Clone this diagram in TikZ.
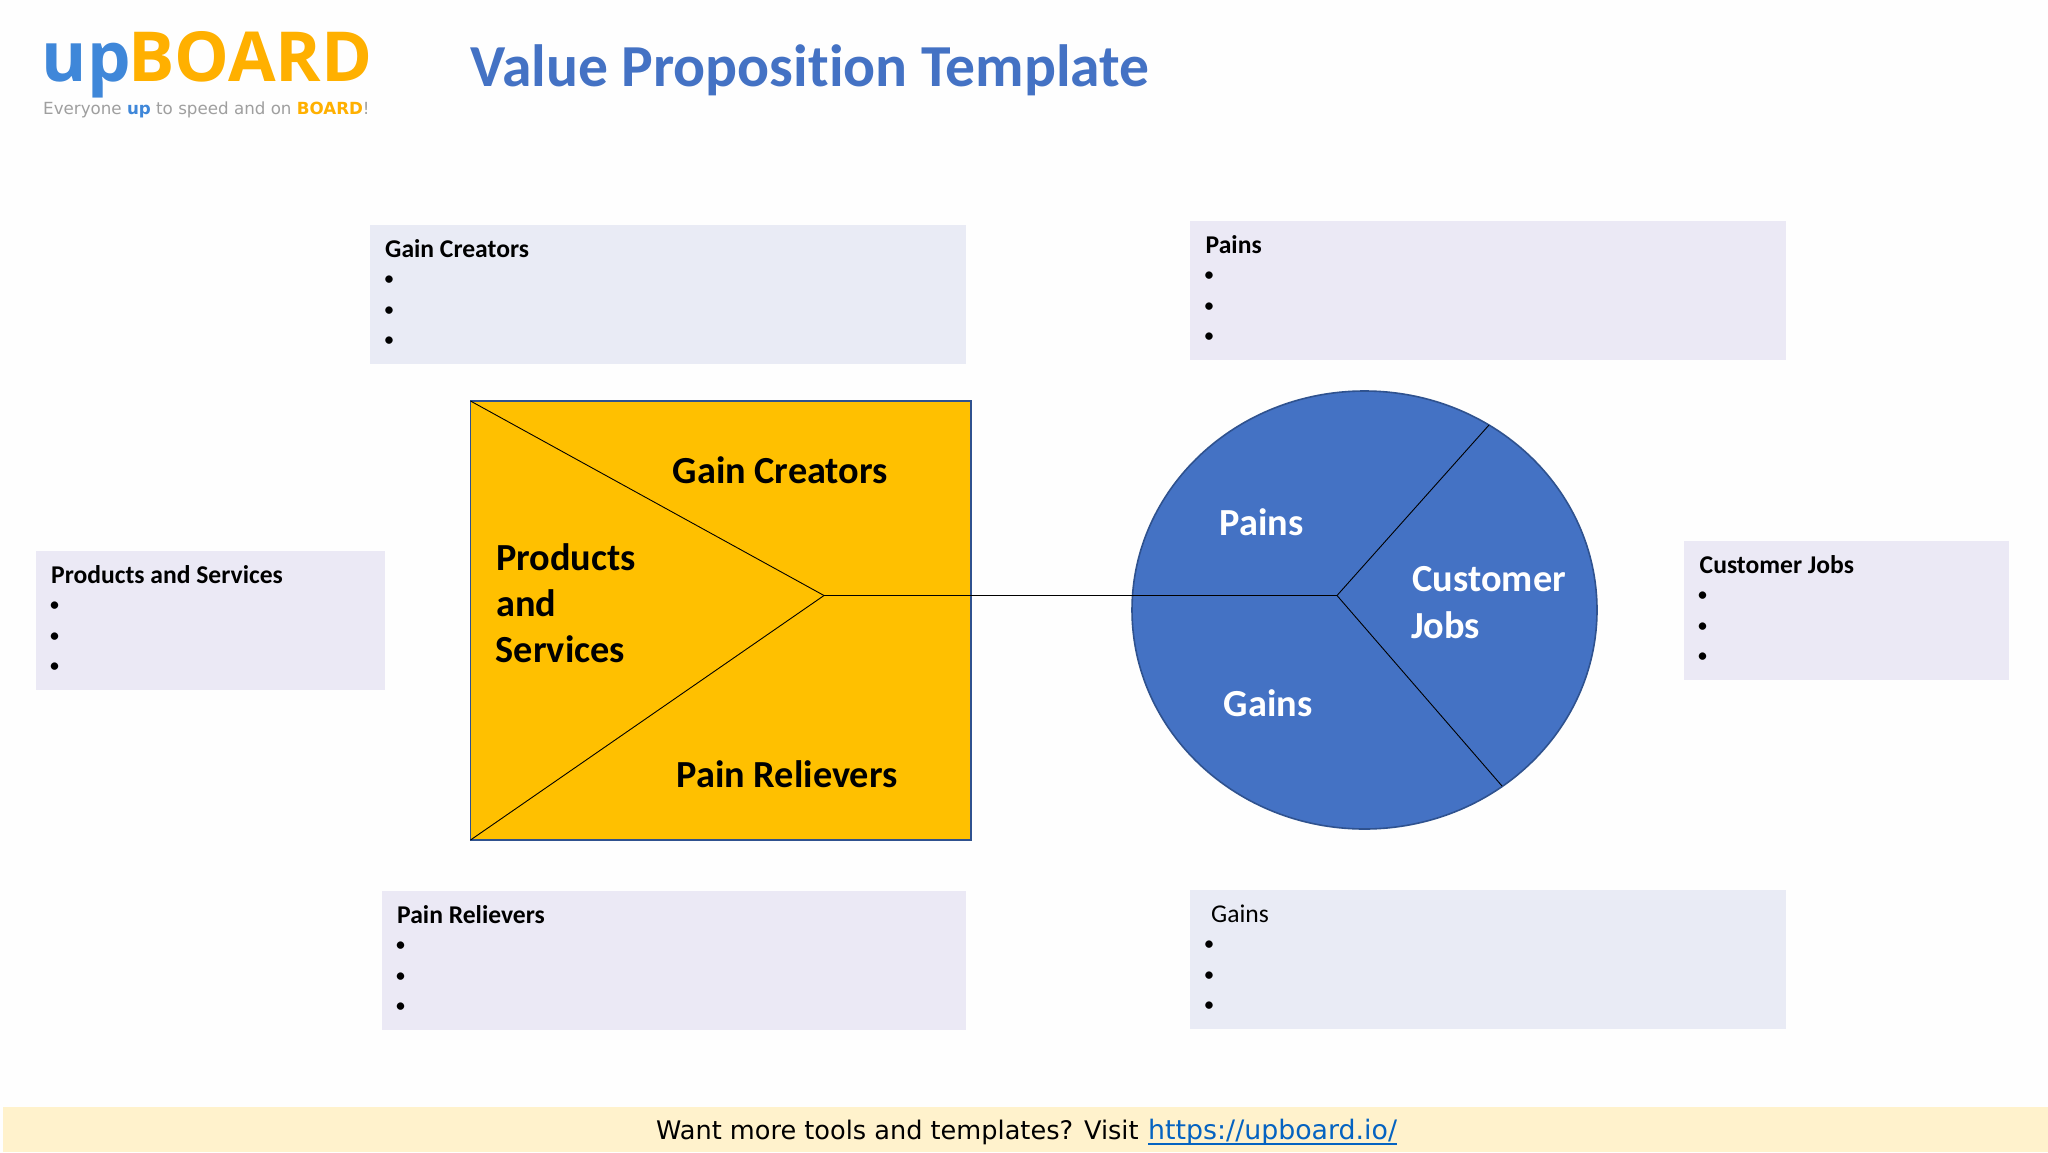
\documentclass[tikz,border=0pt]{standalone}
\usepackage{fontspec}
\usetikzlibrary{shapes.geometric}
\setmainfont{Carlito}[Ligatures=NoCommon]
\newfontfamily\logofont{Open Sans}
\newfontfamily\vfont{DejaVu Sans}
\definecolor{boxa}{HTML}{E9EBF5}
\definecolor{boxb}{HTML}{EBE9F5}
\definecolor{gold}{HTML}{FFC000}
\definecolor{edgeb}{HTML}{2F528F}
\definecolor{blue1}{HTML}{4472C4}
\definecolor{titleb}{HTML}{4472C4}
\definecolor{logob}{HTML}{3F87D9}
\definecolor{logoy}{HTML}{FFB000}
\definecolor{band}{HTML}{FFF2CC}
\definecolor{linkb}{HTML}{0563C1}
\tikzset{x=1pt,y=-1pt,
  listbox/.style={inner sep=0pt,outer sep=0pt,anchor=north west},
  boxtitle/.style={anchor=base west,inner sep=0pt,font=\fontsize{25.6}{26}\selectfont\bfseries,text=black},
  bulletmark/.style={anchor=center,inner sep=0pt,font=\fontsize{21}{21}\selectfont,text=black},
  biglabel/.style={anchor=base west,inner sep=0pt,font=\fontsize{38.3}{38}\selectfont\bfseries,text=black},
  pielabel/.style={anchor=base west,inner sep=0pt,font=\fontsize{38.3}{38}\selectfont\bfseries,text=white},
  thinline/.style={draw=black,line width=0.9pt},
}
% name, x1, y1, width, height, colour
\newcommand{\lbox}[6]{%
  \node[listbox,fill=#6,minimum width=#4pt,minimum height=#5pt] (#1) at (#2,#3) {};
  \node[bulletmark] (#1b1) at ([xshift=19pt,yshift=-56pt]#1.north west) {•};
  \node[bulletmark] (#1b2) at ([xshift=19pt,yshift=-86.5pt]#1.north west) {•};
  \node[bulletmark] (#1b3) at ([xshift=19pt,yshift=-117pt]#1.north west) {•};
}
\begin{document}
\begin{tikzpicture}
\useasboundingbox (0,0) rectangle (2048,1152);
\fill[white!99.5!black] (0,0) rectangle (2048,1152);
% logo
\node[anchor=base west,inner sep=0pt,font=\logofont\fontsize{69}{69}\selectfont\bfseries,text=logob] (logoup) at (41.5,81) {up};
\node[anchor=base west,inner sep=0pt,font=\logofont\fontsize{69}{69}\selectfont\bfseries,text=logoy] (logoboard) at (128,81) {BOARD};
\node[anchor=base west,inner sep=0pt,font=\vfont\fontsize{16.7}{17}\selectfont,text=gray!75] (logotag) at (43,114) {Everyone \textcolor{logob}{\textbf{up}} to speed and on \textcolor{logoy}{\textbf{BOARD}}!};
% title
\node[anchor=base west,inner sep=0pt,font=\fontsize{59.6}{60}\selectfont\bfseries,text=titleb] (title) at (470,86) {Value Proposition Template};
% list boxes
\lbox{gc}{370}{225}{595.5}{139}{boxa}
\node[boxtitle] (gct) at (385,257) {Gain Creators};
\lbox{pa}{1190}{221}{596}{138.5}{boxb}
\node[boxtitle] (pat) at (1205.5,253.5) {Pains};
\lbox{ps}{35.5}{551}{349}{139}{boxb}
\node[boxtitle] (pst) at (51,583) {Products and Services};
\lbox{cj}{1683.5}{541}{325}{138.5}{boxb}
\node[boxtitle] (cjt) at (1699.5,573) {Customer Jobs};
\lbox{pr}{381.5}{891}{584}{139}{boxb}
\node[boxtitle] (prt) at (397,923) {Pain Relievers};
\lbox{ga}{1190}{890}{596}{139}{boxa}
\node[anchor=base west,inner sep=0pt,font=\fontsize{25.6}{26}\selectfont,text=black] (gat) at (1211,922) {Gains};
% value map
\node[listbox,fill=gold,draw=edgeb,line width=1.8pt,minimum width=500.5pt,minimum height=439pt] (map) at (470.5,401) {};
\coordinate (apex) at (824,595.5);
\draw[thinline] (map.north west) -- (apex);
\draw[thinline] (map.south west) -- (apex);
% customer profile
\node[ellipse,fill=blue1,draw=edgeb,line width=1.6pt,minimum width=465pt,minimum height=438pt,inner sep=0pt,outer sep=0pt] (profile) at (1364.5,610) {};
\coordinate (hub) at (1337,595.5);
\coordinate (upend) at (1489,425);
\coordinate (lowend) at (1502,786);
\draw[thinline] (apex) -- (hub);
\draw[thinline] (hub) -- (upend);
\draw[thinline] (hub) -- (lowend);
% labels
\node[biglabel] (lgc) at (672.5,483) {Gain Creators};
\node[biglabel] (lpr) at (676.5,787) {Pain Relievers};
\node[biglabel] (l1) at (496,570) {Products};
\node[biglabel] (l2) at (496,616) {and};
\node[biglabel] (l3) at (495.5,662) {Services};
\node[pielabel] (lpa) at (1219.5,535) {Pains};
\node[pielabel] (lga) at (1223.5,716) {Gains};
\node[pielabel] (lc1) at (1412.5,591.5) {Customer};
\node[pielabel] (lc2) at (1411,638) {Jobs};
% footer
\fill[band] (3,1106.5) rectangle (2048,1152);
\node[anchor=base west,inner sep=0pt,font=\vfont\fontsize{25.6}{26}\selectfont,text=black] (foot) at (656,1139) {Want more tools and templates? Visit};
\node[anchor=base west,inner sep=0pt,font=\vfont\fontsize{26.8}{27}\selectfont,text=linkb] (footlink) at (1148,1139) {https://upboard.io/};
\draw[linkb,line width=2pt] ([yshift=-5pt]footlink.base west) -- ([yshift=-5pt]footlink.base east);
\end{tikzpicture}
\end{document}
